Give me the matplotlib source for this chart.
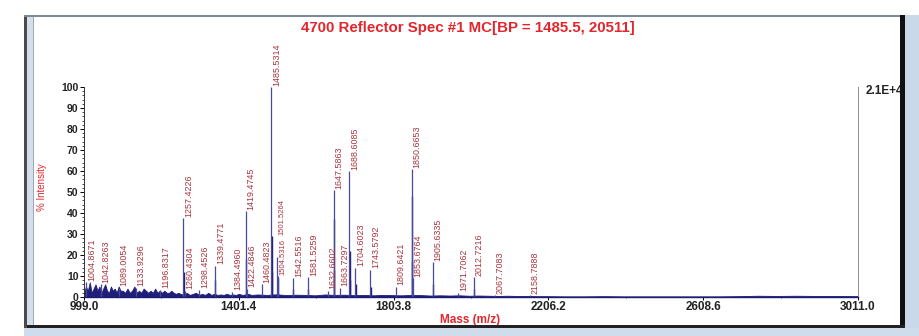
"""
MALDI reflector spectrum (4700 Reflector Spec #1) redrawn with matplotlib.
"""

import matplotlib
matplotlib.use("Agg")
import matplotlib.pyplot as plt
from matplotlib.patches import Rectangle

plt.rcParams['font.family'] = ['Liberation Sans', 'DejaVu Sans']

# labelled peaks: m/z, % intensity, label text
peak_mz = [1004.87, 1042.83, 1089.01, 1133.93, 1196.83, 1257.42, 1260.43, 1298.45,
           1339.48, 1384.50, 1419.47, 1422.48, 1460.48, 1485.53, 1501.53, 1504.53,
           1542.55, 1581.53, 1632.66, 1647.59, 1663.73, 1688.61, 1704.60, 1743.58,
           1809.64, 1850.67, 1853.68, 1905.63, 1971.71, 2012.72, 2067.71, 2158.79]
peak_int = [7, 6, 4.5, 4.5, 3.5, 37.5, 3, 3.5,
            15, 2.5, 41, 4, 6, 100, 19, 10,
            9, 9.5, 3, 51, 4.5, 60, 14, 13,
            5, 61, 9, 16.5, 2, 9.5, 1, 1]
peak_labels = ["1004.8671", "1042.8263", "1089.0054", "1133.9296", "1196.8317",
               "1257.4226", "1260.4304", "1298.4526", "1339.4771", "1384.4960",
               "1419.4745", "1422.4846", "1460.4823", "1485.5314", "1501.5264",
               "1504.5316", "1542.5516", "1581.5259", "1632.6602", "1647.5863",
               "1663.7297", "1688.6085", "1704.6023", "1743.5792", "1809.6421",
               "1850.6653", "1853.6764", "1905.6335", "1971.7062", "2012.7216",
               "2067.7083", "2158.7888"]

# isotope peaks (unlabelled)
iso_mz = [1258.43, 1340.48, 1420.48, 1486.53, 1487.53, 1502.53, 1543.55, 1582.53,
          1648.59, 1649.59, 1689.61, 1690.61, 1705.60, 1744.58, 1851.67, 1852.67,
          1906.63, 2013.72]
iso_int = [12, 8, 18, 29, 12, 9, 4, 4,
           37, 13, 22, 8, 6, 5, 48, 17,
           6, 4]

# baseline trace
noise_mz = [999, 1004, 1009, 1014, 1019, 1024, 1029, 1034, 1039, 1044,
            1049, 1054, 1059, 1064, 1069, 1074, 1079, 1084, 1089, 1094,
            1100, 1106, 1112, 1118, 1124, 1130, 1136, 1142, 1148, 1154,
            1160, 1166, 1172, 1178, 1184, 1190, 1196, 1202, 1208, 1214,
            1220, 1226, 1232, 1238, 1244,
            1250, 1258, 1266, 1274, 1282, 1290, 1298, 1306, 1314, 1322,
            1330, 1338, 1346, 1354, 1362, 1370, 1378, 1386, 1394, 1402,
            1410, 1418, 1426, 1434,
            1450, 1475, 1500, 1525, 1550, 1575, 1600, 1625, 1650, 1675,
            1700, 1725, 1750, 1775, 1800, 1825, 1850, 1875, 1900, 1925,
            1950, 1975, 2000, 2025, 2050, 2075, 2100, 2125, 2150, 2175, 2200,
            2250, 2300, 2350, 2400, 2450, 2500, 2550, 2600, 2650, 2700,
            2750, 2800, 2850, 2900, 2950, 3011]
noise_int = [2, 5, 3, 7, 2, 4, 6, 3, 5, 2,
             4, 6, 3, 2, 5, 3, 4, 2, 5, 3,
             3, 2, 4, 2, 3, 5, 2, 3, 2, 4,
             3, 2, 3, 2, 4, 2, 3, 2, 3, 2,
             2, 3, 2, 1.5, 2,
             1.5, 1, 2, 1, 1.5, 2, 1, 1.5, 1, 2,
             1, 1.5, 1, 1.2, 1, 1.5, 1, 1.2, 1, 1.5,
             1, 1.2, 1.5, 1,
             1.2, 1, 1.3, 0.9, 1.1, 1, 0.8, 1.2, 1, 1.1,
             0.9, 1, 0.8, 1, 0.9, 0.8, 1, 0.9, 0.7, 0.8,
             0.7, 0.8, 0.6, 0.7, 0.6, 0.5, 0.6, 0.5, 0.5, 0.4, 0.4,
             0.3, 0.3, 0.4, 0.3, 0.3, 0.3, 0.3, 0.3, 0.3, 0.4,
             0.6, 0.5, 0.6, 0.5, 0.5, 0.4]

x_ticks = [999.0, 1401.4, 1803.8, 2206.2, 2608.6, 3011.0]
y_ticks = [0, 10, 20, 30, 40, 50, 60, 70, 80, 90, 100]

W, H = 920, 336
RED = '#e3262c'
LABEL_RED = '#a8343f'
SPEC = '#1f1f7a'

# two labels that sit on top of each other in the original trace
crowded = {"1501.5264": 16, "1504.5316": 1}


def box(x0, y0, x1, y1):
    # pixel box (top-left origin) -> figure fraction
    return (x0 / W, 1 - y1 / H), (x1 - x0) / W, (y1 - y0) / H


fig = plt.figure(figsize=(W / 100, H / 100), dpi=100, facecolor='white')
ax = fig.add_axes([84 / W, 39 / H, 774 / W, 210 / H])

ax.fill_between(noise_mz, 0, noise_int, color=SPEC, lw=0.6)
ax.vlines(iso_mz, 0, iso_int, color=SPEC, lw=1.0)
ax.vlines(peak_mz, 0, peak_int, color='#4a4a9a', lw=0.9)

for mz, h, lab in zip(peak_mz, peak_int, peak_labels):
    lift = crowded.get(lab, 1)
    fs = 5.5 if lab in crowded else 6.4
    ax.annotate(lab, (mz, h), xytext=(0.6, lift), textcoords='offset points',
                rotation=90, ha='left', va='bottom', fontsize=fs,
                color=LABEL_RED, annotation_clip=False)

ax.set_xlim(999.0, 3011.0)
ax.set_ylim(0, 100)
ax.set_xticks(x_ticks)
ax.set_xticklabels([f"{v:.1f}" for v in x_ticks], fontsize=8.5, fontweight='bold', color='#222222')
ax.set_xticks([1200.2, 1602.6, 2005.0, 2407.4, 2809.8], minor=True)
ax.set_yticks(y_ticks)
ax.set_yticklabels([str(v) for v in y_ticks], fontsize=7.5, fontweight='bold', color='#222222')
ax.set_yticks(range(0, 101, 2), minor=True)
ax.tick_params(axis='y', which='major', length=3, width=0.7, pad=1)
ax.tick_params(axis='y', which='minor', length=1.5, width=0.5)
ax.tick_params(axis='x', which='major', length=2, width=0.7, pad=1)
ax.tick_params(axis='x', which='minor', length=1, width=0.5)

ax.spines['top'].set_visible(False)
ax.spines['left'].set_color('#333333')
ax.spines['left'].set_linewidth(0.7)
ax.spines['bottom'].set_color('#1c1c70')
ax.spines['bottom'].set_linewidth(1.0)
ax.spines['right'].set_color('#909090')
ax.spines['right'].set_linewidth(0.7)

fig.text(468 / W, 1 - 28 / H, "4700 Reflector Spec #1 MC[BP = 1485.5, 20511]",
         ha='center', va='center', color=RED, fontsize=10.8, fontweight='bold')
fig.text(42 / W, 1 - 187 / H, "% Intensity", rotation=90, ha='center', va='center',
         color=RED, fontsize=7)
fig.text(470 / W, 1 - 320 / H, "Mass (m/z)", ha='center', va='center',
         color=RED, fontsize=8.5, fontweight='bold')
fig.text(866 / W, 1 - 91 / H, "2.1E+4", ha='left', va='center',
         color='#222222', fontsize=8.5, fontweight='bold')

# window frame around the screenshot
frame = [
    ((24, 15, 27, 336), '#4a4a4a'),
    ((27, 17, 33, 328), '#d4dfeb'),
    ((33, 17, 34, 326), '#9aa8b8'),
    ((24, 15, 905, 17), '#7a8a9a'),
    ((905, 15, 920, 336), '#c9d9ea'),
    ((24, 328, 920, 336), '#cfdceb'),
    ((900, 15, 905, 328), '#111111'),
    ((27, 325, 905, 328), '#222222'),
]
for (x0, y0, x1, y1), c in frame:
    xy, w, h = box(x0, y0, x1, y1)
    fig.add_artist(Rectangle(xy, w, h, transform=fig.transFigure,
                             facecolor=c, edgecolor='none', zorder=10))

fig.savefig("out.png", dpi=100, facecolor='white')
